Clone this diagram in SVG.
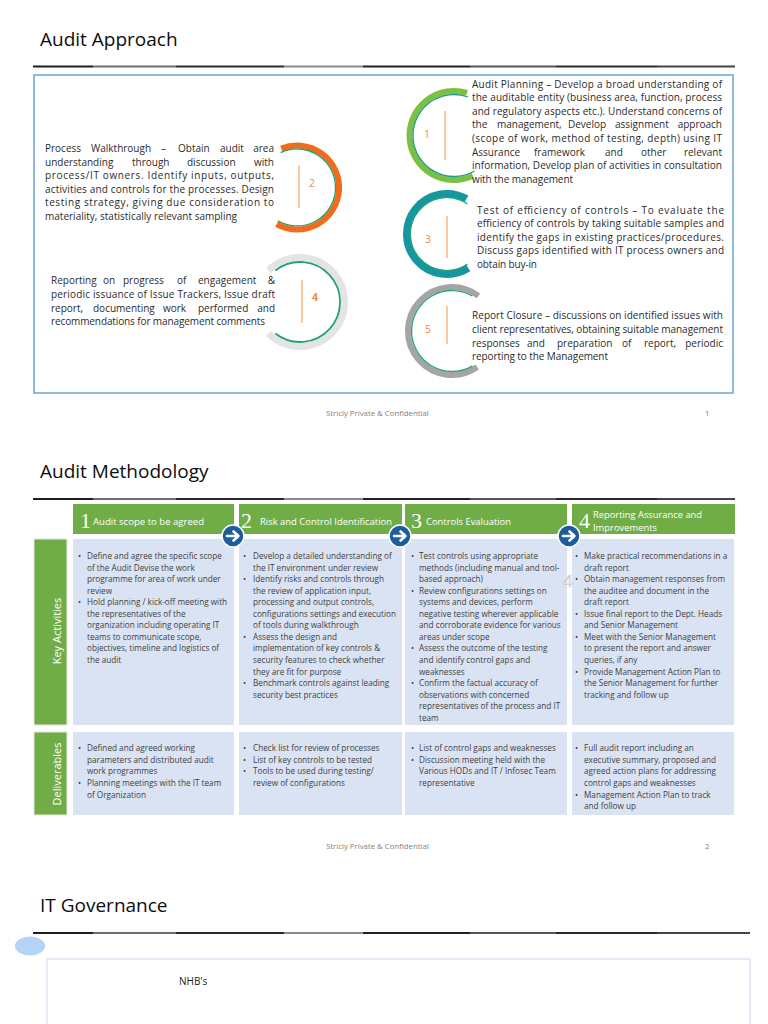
<svg xmlns="http://www.w3.org/2000/svg" xmlns:xlink="http://www.w3.org/1999/xlink" width="768" height="1024" viewBox="0 0 768 1024">
<style>
text { font-family: "Open Sans", "Noto Sans", sans-serif; }
.title { font-size: 19px; fill: #0d0d0d; }
.body { font-size: 10px; fill: #2b2b2b; }
.cell { font-size: 8.2px; fill: #3f3f3f; }
.hd { font-size: 9.6px; fill: #ffffff; }
.dig { font-family: "Liberation Serif", serif; font-size: 22px; fill: #ffffff; }
.num { font-size: 10.5px; fill: #f08c3c; }
.vl { stroke: #f5a55f; stroke-width: 1.2; }
.foot { font-size: 7.8px; fill: #808080; }
.side { font-size: 11px; fill: #ffffff; }
.arc { fill: none; }
.bar { fill: #70ad47; }
.sidebar { fill: #70ad47; stroke: #e6e6e6; stroke-width: 1; }
.cellbg { fill: #dae3f3; }
</style>
<defs>
<linearGradient id="rule" gradientUnits="userSpaceOnUse" x1="33" y1="0" x2="750" y2="0">
<stop offset="0" stop-color="#1e1e1e"/><stop offset="0.083" stop-color="#1e1e1e"/>
<stop offset="0.083" stop-color="#6e6e6e"/><stop offset="0.2" stop-color="#6e6e6e"/>
<stop offset="0.2" stop-color="#2a2a2a"/><stop offset="0.35" stop-color="#2a2a2a"/>
<stop offset="0.35" stop-color="#8a8a8a"/><stop offset="0.46" stop-color="#8a8a8a"/>
<stop offset="0.46" stop-color="#222"/><stop offset="0.61" stop-color="#222"/>
<stop offset="0.61" stop-color="#555"/><stop offset="0.73" stop-color="#555"/>
<stop offset="0.73" stop-color="#2a2a2a"/><stop offset="0.87" stop-color="#2a2a2a"/>
<stop offset="0.87" stop-color="#444"/><stop offset="1" stop-color="#444"/>
</linearGradient>
<g id="arr">
<circle r="11" fill="#1f5c9e" stroke="#ffffff" stroke-width="1.5"/>
<path d="M-6,0H4.5M0.5,-4.5L5.5,0L0.5,4.5" fill="none" stroke="#ffffff" stroke-width="2.6" stroke-linecap="round" stroke-linejoin="round"/>
</g>
</defs>

<rect width="768" height="1024" fill="#ffffff"/>

<!-- PAGE 1 -->
<g id="page1">
<text class="title" x="40" y="46">Audit Approach</text>
<line x1="33" y1="66.5" x2="735" y2="66.5" stroke="url(#rule)" stroke-width="1.8"/>
<rect x="34" y="75" width="699" height="318" fill="none" stroke="#6aa5d6" stroke-width="1.5"/>

<g id="step1">
<path class="arc" d="M467,92.9 A44.5,44.5 0 1 0 472.8,175.8" stroke="#7ac143" stroke-width="6"/>
<path class="arc" d="M468,97 A41,41 0 1 0 474.5,171" stroke="#1d9c8a" stroke-width="1.3"/>
<line class="vl" x1="445" y1="111" x2="445" y2="160"/>
<text class="num" x="424" y="138">1</text>
<g class="body">
<text x="472" y="87.8" textLength="250" lengthAdjust="spacing">Audit Planning – Develop a broad understanding of</text>
<text x="472" y="101.35" textLength="250" lengthAdjust="spacing">the auditable entity (business area, function, process</text>
<text x="472" y="114.9" textLength="250" lengthAdjust="spacing">and regulatory aspects etc.). Understand concerns of</text>
<text y="128.45"><tspan x="472">the</tspan><tspan x="497">management,</tspan><tspan x="568">Develop</tspan><tspan x="615">assignment</tspan><tspan x="722" text-anchor="end">approach</tspan></text>
<text x="472" y="142" textLength="250" lengthAdjust="spacing">(scope of work, method of testing, depth) using IT</text>
<text y="155.55"><tspan x="472">Assurance</tspan><tspan x="534">framework</tspan><tspan x="605">and</tspan><tspan x="641">other</tspan><tspan x="722" text-anchor="end">relevant</tspan></text>
<text x="472" y="169.1" textLength="250" lengthAdjust="spacing">information, Develop plan of activities in consultation</text>
<text x="472" y="182.65" textLength="101" lengthAdjust="spacing">with the management</text>
</g>
</g>

<g id="step2">
<path class="arc" d="M281.3,148.6 A42,42 0 1 1 276.6,224.2" stroke="#f26b1d" stroke-width="6"/>
<path class="arc" d="M280.7,152.6 A38.5,38.5 0 1 1 277.75,220.8" stroke="#22a36f" stroke-width="1.3"/>
<line class="vl" x1="299" y1="165" x2="299" y2="208"/>
<text class="num" x="309" y="187">2</text>
<g class="body">
<text y="152"><tspan x="45">Process</tspan><tspan x="91">Walkthrough</tspan><tspan x="161">–</tspan><tspan x="178">Obtain</tspan><tspan x="220">audit</tspan><tspan x="274" text-anchor="end">area</tspan></text>
<text y="165.55"><tspan x="45">understanding</tspan><tspan x="132">through</tspan><tspan x="187">discussion</tspan><tspan x="274" text-anchor="end">with</tspan></text>
<text x="45" y="179.1" textLength="229" lengthAdjust="spacing">process/IT owners.  Identify inputs, outputs,</text>
<text x="45" y="192.65" textLength="229" lengthAdjust="spacing">activities and controls for the processes.  Design</text>
<text x="45" y="206.2" textLength="229" lengthAdjust="spacing">testing strategy, giving due consideration to</text>
<text x="45" y="219.75" textLength="192" lengthAdjust="spacing">materiality, statistically relevant sampling</text>
</g>
</g>

<g id="step3">
<path class="arc" d="M466.4,199 A40,40 0 1 0 468.2,267.9" stroke="#16969f" stroke-width="8"/>
<path class="arc" d="M467.5,204.1 A36.5,36.5 0 1 0 467.5,263.9" stroke="#2aa57a" stroke-width="1.2"/>
<line class="vl" x1="447" y1="216" x2="447" y2="258"/>
<text class="num" x="425" y="243">3</text>
<g class="body">
<text x="477" y="213.5" textLength="247" lengthAdjust="spacing">Test of efficiency of controls – To evaluate the</text>
<text x="477" y="227.05" textLength="247" lengthAdjust="spacing">efficiency of controls by taking suitable samples and</text>
<text x="477" y="240.6" textLength="247" lengthAdjust="spacing">identify the gaps in existing practices/procedures.</text>
<text x="477" y="254.15" textLength="247" lengthAdjust="spacing">Discuss gaps identified with IT process owners and</text>
<text x="477" y="267.7" textLength="60" lengthAdjust="spacing">obtain buy-in</text>
</g>
</g>

<g id="step4">
<path class="arc" d="M268.5,270.5 A44.5,44.5 0 1 1 268.5,333.5" stroke="#e4e4e4" stroke-width="7"/>
<path class="arc" d="M275.4,270.5 A40,40 0 1 1 275.4,333.5" stroke="#22a36f" stroke-width="1.8"/>
<line class="vl" x1="302" y1="280" x2="302" y2="323"/>
<text class="num" x="312" y="301" font-weight="bold" fill="#e8731e">4</text>
<g class="body">
<text y="284.4"><tspan x="51">Reporting</tspan><tspan x="103">on</tspan><tspan x="123">progress</tspan><tspan x="177">of</tspan><tspan x="198">engagement</tspan><tspan x="275" text-anchor="end">&amp;</tspan></text>
<text x="51" y="297.95" textLength="224" lengthAdjust="spacing">periodic issuance of Issue Trackers, Issue draft</text>
<text y="311.5"><tspan x="51">report,</tspan><tspan x="93">documenting</tspan><tspan x="163">work</tspan><tspan x="198">performed</tspan><tspan x="275" text-anchor="end">and</tspan></text>
<text x="51" y="325.05" textLength="214" lengthAdjust="spacing">recommendations for management comments</text>
</g>
</g>

<g id="step5">
<path class="arc" d="M478.5,295.9 A44,44 0 1 0 477.2,367" stroke="#a5a5a5" stroke-width="6"/>
<path class="arc" d="M472.3,295.9 A40.5,40.5 0 1 0 472.3,366.1" stroke="#2aa57a" stroke-width="1.3"/>
<line class="vl" x1="447" y1="306" x2="447" y2="344"/>
<text class="num" x="425" y="333">5</text>
<g class="body">
<text x="472" y="319.4" textLength="251" lengthAdjust="spacing">Report Closure – discussions on identified issues with</text>
<text x="472" y="332.95" textLength="251" lengthAdjust="spacing">client representatives, obtaining suitable management</text>
<text y="346.5"><tspan x="472">responses</tspan><tspan x="527">and</tspan><tspan x="557">preparation</tspan><tspan x="622">of</tspan><tspan x="644">report,</tspan><tspan x="723" text-anchor="end">periodic</tspan></text>
<text x="472" y="360.05" textLength="136" lengthAdjust="spacing">reporting to the Management</text>
</g>
</g>

<text class="foot" x="326" y="416">Stricly Private &amp; Confidential</text>
<text class="foot" x="705" y="416">1</text>
</g>

<!-- PAGE 2 -->
<g id="page2">
<text class="title" x="40" y="478">Audit Methodology</text>
<line x1="33" y1="499" x2="735" y2="499" stroke="url(#rule)" stroke-width="1.8"/>

<g id="head1">
<rect class="bar" x="73" y="504" width="161" height="30"/>
<text class="dig" x="80" y="527.5">1</text>
<text class="hd" x="93" y="525" textLength="111" lengthAdjust="spacingAndGlyphs">Audit scope to be agreed</text>
</g>
<g id="head2">
<rect class="bar" x="239" y="504" width="163" height="30"/>
<text class="dig" x="241" y="527.5">2</text>
<text class="hd" x="260" y="525" textLength="132" lengthAdjust="spacingAndGlyphs">Risk and Control Identification</text>
</g>
<g id="head3">
<rect class="bar" x="405" y="504" width="162" height="30"/>
<text class="dig" x="411" y="527.5">3</text>
<text class="hd" x="426" y="525" textLength="85" lengthAdjust="spacingAndGlyphs">Controls Evaluation</text>
</g>
<g id="head4">
<rect class="bar" x="572" y="504" width="163" height="30"/>
<text class="dig" x="579" y="527.5">4</text>
<text class="hd" x="593" y="518" textLength="109" lengthAdjust="spacingAndGlyphs">Reporting Assurance and</text>
<text class="hd" x="593" y="530.5" textLength="64" lengthAdjust="spacingAndGlyphs">Improvements</text>
</g>

<g id="label-key">
<rect class="sidebar" x="34" y="539" width="33" height="186"/>
<text class="side" transform="translate(61,631) rotate(-90)" text-anchor="middle">Key Activities</text>
</g>
<g id="label-deliv">
<rect class="sidebar" x="34" y="732" width="33" height="83"/>
<text class="side" transform="translate(61,774) rotate(-90)" text-anchor="middle">Deliverables</text>
</g>

<g id="act1">
<rect class="cellbg" x="73" y="539" width="161" height="186"/>
<g class="cell">
<text x="78" y="559">•</text><text x="87" y="559">Define and agree the specific scope</text>
<text x="87" y="570.55">of the Audit Devise the work</text>
<text x="87" y="582.1">programme for area of work under</text>
<text x="87" y="593.65">review</text>
<text x="78" y="605.2">•</text><text x="87" y="605.2">Hold planning / kick-off meeting with</text>
<text x="87" y="616.75">the representatives of the</text>
<text x="87" y="628.3">organization including operating IT</text>
<text x="87" y="639.85">teams to communicate scope,</text>
<text x="87" y="651.4">objectives, timeline and logistics of</text>
<text x="87" y="662.95">the audit</text>
</g>
</g>

<g id="act2">
<rect class="cellbg" x="239" y="539" width="163" height="186"/>
<g class="cell">
<text x="243" y="559">•</text><text x="253" y="559">Develop a detailed understanding of</text>
<text x="253" y="570.55">the IT environment under review</text>
<text x="243" y="582.1">•</text><text x="253" y="582.1">Identify risks and controls through</text>
<text x="253" y="593.65">the review of application input,</text>
<text x="253" y="605.2">processing and output controls,</text>
<text x="253" y="616.75">configurations settings and execution</text>
<text x="253" y="628.3">of tools during walkthrough</text>
<text x="243" y="639.85">•</text><text x="253" y="639.85">Assess the design and</text>
<text x="253" y="651.4">implementation of key controls &amp;</text>
<text x="253" y="662.95">security features to check whether</text>
<text x="253" y="674.5">they are fit for purpose</text>
<text x="243" y="686.05">•</text><text x="253" y="686.05">Benchmark controls against leading</text>
<text x="253" y="697.6">security best practices</text>
</g>
</g>

<g id="act3">
<rect class="cellbg" x="405" y="539" width="162" height="186"/>
<g class="cell">
<text x="411" y="559">•</text><text x="419" y="559">Test controls using appropriate</text>
<text x="419" y="570.55">methods (including manual and tool-</text>
<text x="419" y="582.1">based approach)</text>
<text x="411" y="593.65">•</text><text x="419" y="593.65">Review configurations settings on</text>
<text x="419" y="605.2">systems and devices, perform</text>
<text x="419" y="616.75">negative testing wherever applicable</text>
<text x="419" y="628.3">and corroborate evidence for various</text>
<text x="419" y="639.85">areas under scope</text>
<text x="411" y="651.4">•</text><text x="419" y="651.4">Assess the outcome of the testing</text>
<text x="419" y="662.95">and identify control gaps and</text>
<text x="419" y="674.5">weaknesses</text>
<text x="411" y="686.05">•</text><text x="419" y="686.05">Confirm the factual accuracy of</text>
<text x="419" y="697.6">observations with concerned</text>
<text x="419" y="709.15">representatives of the process and IT</text>
<text x="419" y="720.7">team</text>
</g>
</g>

<g id="act4">
<rect class="cellbg" x="572" y="539" width="162" height="186"/>
<g class="cell">
<text x="575" y="559">•</text><text x="584" y="559">Make practical recommendations in a</text>
<text x="584" y="570.55">draft report</text>
<text x="575" y="582.1">•</text><text x="584" y="582.1">Obtain management responses from</text>
<text x="584" y="593.65">the auditee and document in the</text>
<text x="584" y="605.2">draft report</text>
<text x="575" y="616.75">•</text><text x="584" y="616.75">Issue final report to the Dept. Heads</text>
<text x="584" y="628.3">and Senior Management</text>
<text x="575" y="639.85">•</text><text x="584" y="639.85">Meet with the Senior Management</text>
<text x="584" y="651.4">to present the report and answer</text>
<text x="584" y="662.95">queries, if any</text>
<text x="575" y="674.5">•</text><text x="584" y="674.5">Provide Management Action Plan to</text>
<text x="584" y="686.05">the Senior Management for further</text>
<text x="584" y="697.6">tracking and follow up</text>
</g>
</g>
<text x="563" y="587" font-size="17" fill="#f2f2f2" stroke="#bdbdbd" stroke-width="0.5">4</text>

<g id="del1">
<rect class="cellbg" x="73" y="732" width="161" height="83"/>
<g class="cell">
<text x="78" y="751.2">•</text><text x="87" y="751.2">Defined and agreed working</text>
<text x="87" y="762.8">parameters and distributed audit</text>
<text x="87" y="774.4">work programmes</text>
<text x="78" y="786">•</text><text x="87" y="786">Planning meetings with the IT team</text>
<text x="87" y="797.6">of Organization</text>
</g>
</g>
<g id="del2">
<rect class="cellbg" x="239" y="732" width="163" height="83"/>
<g class="cell">
<text x="243" y="751.2">•</text><text x="253" y="751.2">Check list for review of processes</text>
<text x="243" y="762.8">•</text><text x="253" y="762.8">List of key controls to be tested</text>
<text x="243" y="774.4">•</text><text x="253" y="774.4">Tools to be used during testing/</text>
<text x="253" y="786">review of configurations</text>
</g>
</g>
<g id="del3">
<rect class="cellbg" x="405" y="732" width="162" height="83"/>
<g class="cell">
<text x="411" y="751.2">•</text><text x="419" y="751.2">List of control gaps and weaknesses</text>
<text x="411" y="762.8">•</text><text x="419" y="762.8">Discussion meeting held with the</text>
<text x="419" y="774.4">Various HODs and IT / Infosec Team</text>
<text x="419" y="786">representative</text>
</g>
</g>
<g id="del4">
<rect class="cellbg" x="572" y="732" width="162" height="83"/>
<g class="cell">
<text x="575" y="751.2">•</text><text x="584" y="751.2">Full audit report including an</text>
<text x="584" y="762.8">executive summary, proposed and</text>
<text x="584" y="774.4">agreed action plans for addressing</text>
<text x="584" y="786">control gaps and weaknesses</text>
<text x="575" y="797.6">•</text><text x="584" y="797.6">Management Action Plan to track</text>
<text x="584" y="809.2">and follow up</text>
</g>
</g>

<g id="connectors">
<use xlink:href="#arr" href="#arr" x="233" y="536"/>
<use xlink:href="#arr" href="#arr" x="400" y="536"/>
<use xlink:href="#arr" href="#arr" x="569" y="536"/>
</g>

<text class="foot" x="326" y="849">Stricly Private &amp; Confidential</text>
<text class="foot" x="705" y="849">2</text>
</g>

<!-- PAGE 3 -->
<g id="page3">
<text class="title" x="40" y="912">IT Governance</text>
<line x1="33" y1="933" x2="750" y2="933" stroke="url(#rule)" stroke-width="1.8"/>
<ellipse cx="30" cy="946" rx="15" ry="9.5" fill="#b4d3f7"/>
<g id="nhb">
<rect x="47" y="959" width="703" height="80" fill="none" stroke="#c5dcf0" stroke-width="1"/>
<text x="179" y="985" font-family="Liberation Sans, Arial, sans-serif" font-size="10" fill="#222">NHB's</text>
</g>
</g>
</svg>
